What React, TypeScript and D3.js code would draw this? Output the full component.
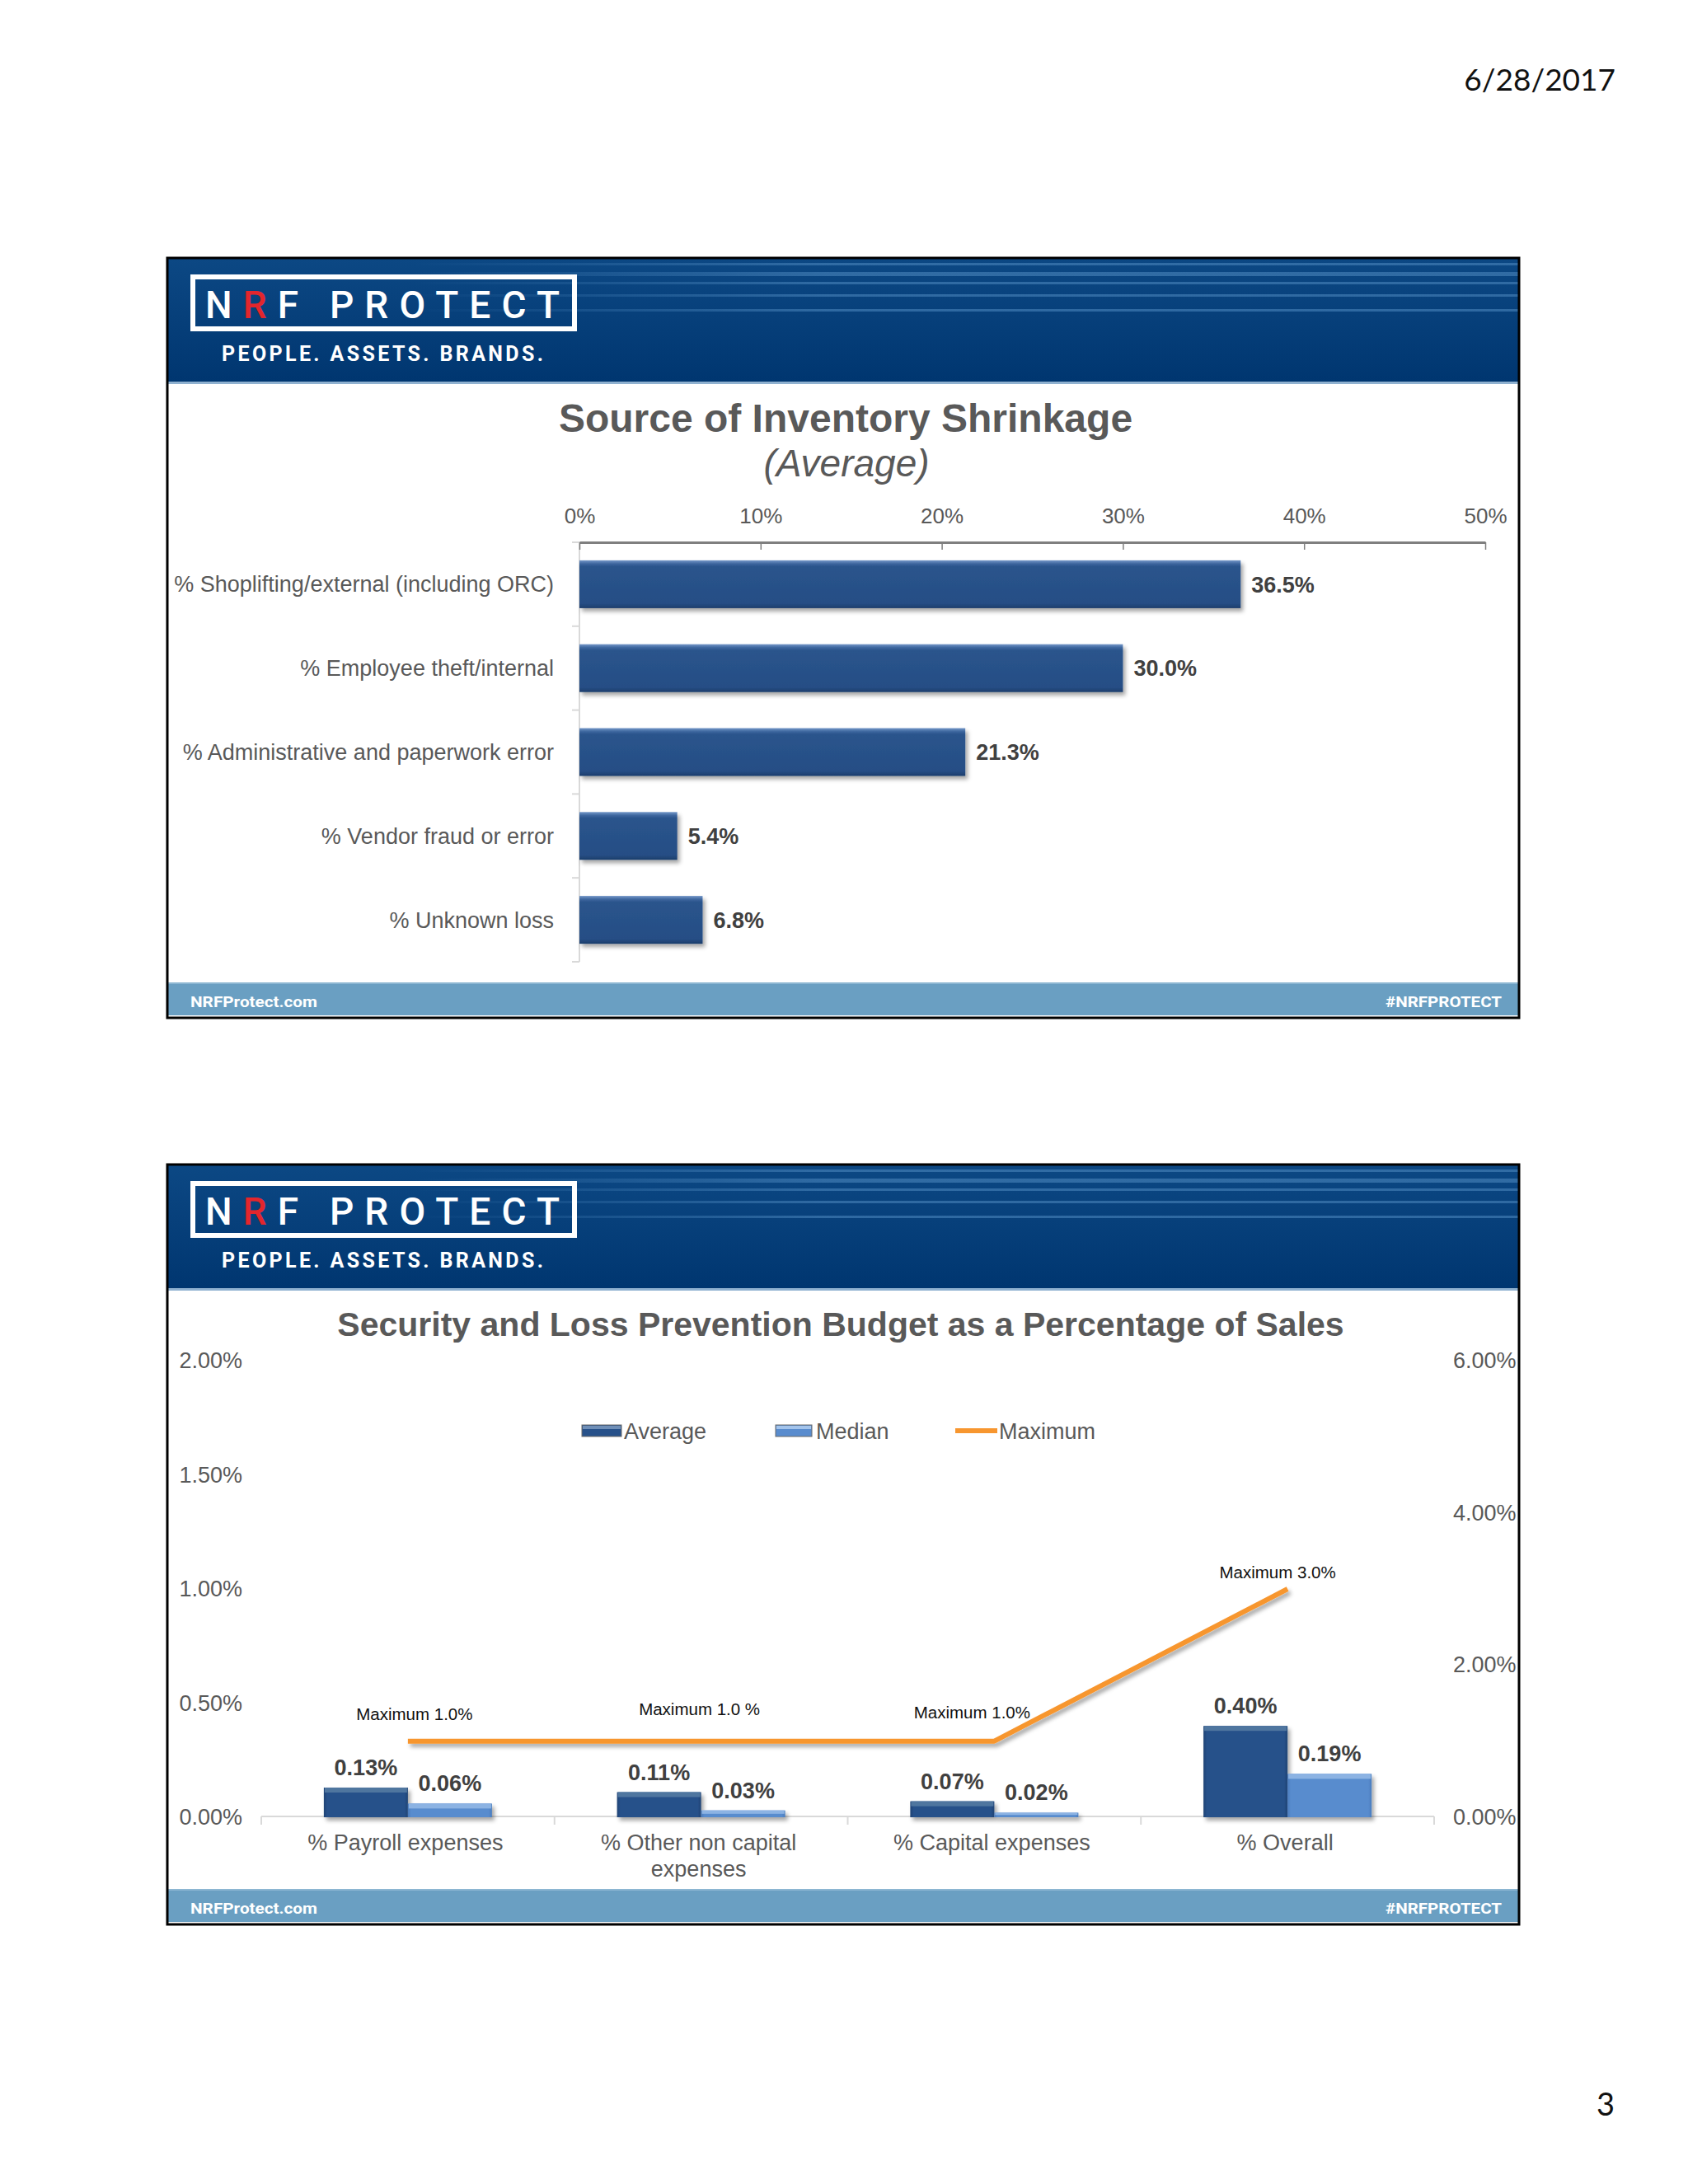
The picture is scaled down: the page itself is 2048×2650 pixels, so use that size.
import { useEffect, useRef } from "react";
import * as d3 from "d3";

// Source of inventory shrinkage (average share, %)
const shrinkCategories = [
  "% Shoplifting/external (including ORC)",
  "% Employee theft/internal",
  "% Administrative and paperwork error",
  "% Vendor fraud or error",
  "% Unknown loss",
];
const shrinkValues = [36.5, 30.0, 21.3, 5.4, 6.8];
const shrinkTicks = [0, 10, 20, 30, 40, 50];

// Security / LP budget as % of sales
const budgetCategories = [
  "% Payroll expenses",
  "% Other non capital expenses",
  "% Capital expenses",
  "% Overall",
];
const budgetCategoryLines = [
  ["% Payroll expenses"],
  ["% Other non capital", "expenses"],
  ["% Capital expenses"],
  ["% Overall"],
];
const budgetSeries = ["Average", "Median"];
const budgetAverage = [0.13, 0.11, 0.07, 0.4];
const budgetMedian = [0.06, 0.03, 0.02, 0.19];
const budgetMaximum = [1.0, 1.0, 1.0, 3.0];
const maximumLabels = ["Maximum 1.0%", "Maximum 1.0 %", "Maximum 1.0%", "Maximum 3.0%"];
const leftTicks = [0, 0.5, 1, 1.5, 2];
const rightTicks = [0, 2, 4, 6];

const FONT = "'Liberation Sans', Arial, Helvetica, sans-serif";
const GRAY = "#595959";
const DARK = "#404040";

const slideLeft = 203;
const slideRight = 1843;
const slideHeight = 922;

export default function App() {
  const svgRef = useRef<SVGSVGElement>(null);

  useEffect(() => {
    if (!svgRef.current) return;
    const svg = d3.select(svgRef.current);
    svg.selectAll("*").remove();

    const defs = svg.append("defs");

    const header = defs.append("linearGradient").attr("id", "headerFill").attr("x1", 0).attr("y1", 0).attr("x2", 0).attr("y2", 1);
    header.append("stop").attr("offset", "0%").attr("stop-color", "#0c4884");
    header.append("stop").attr("offset", "45%").attr("stop-color", "#07407b");
    header.append("stop").attr("offset", "100%").attr("stop-color", "#003670");

    const stripe = defs.append("linearGradient").attr("id", "stripeFill")
      .attr("gradientUnits", "userSpaceOnUse").attr("x1", 500).attr("y1", 0).attr("x2", 1000).attr("y2", 0);
    stripe.append("stop").attr("offset", "0%").attr("stop-color", "#4f8ac0").attr("stop-opacity", 0);
    stripe.append("stop").attr("offset", "100%").attr("stop-color", "#4f8ac0").attr("stop-opacity", 0.55);

    const barH = defs.append("linearGradient").attr("id", "barBlueH").attr("x1", 0).attr("y1", 0).attr("x2", 0).attr("y2", 1);
    barH.append("stop").attr("offset", "0%").attr("stop-color", "#7497c8");
    barH.append("stop").attr("offset", "7%").attr("stop-color", "#3e679f");
    barH.append("stop").attr("offset", "13%").attr("stop-color", "#2a548c");
    barH.append("stop").attr("offset", "90%").attr("stop-color", "#264e85");
    barH.append("stop").attr("offset", "100%").attr("stop-color", "#1c3d6b");

    const avgFill = defs.append("linearGradient").attr("id", "avgFill").attr("x1", 0).attr("y1", 0).attr("x2", 1).attr("y2", 0);
    avgFill.append("stop").attr("offset", "0%").attr("stop-color", "#1f4374");
    avgFill.append("stop").attr("offset", "4%").attr("stop-color", "#27518a");
    avgFill.append("stop").attr("offset", "96%").attr("stop-color", "#27518a");
    avgFill.append("stop").attr("offset", "100%").attr("stop-color", "#1f4374");

    const medFill = defs.append("linearGradient").attr("id", "medFill").attr("x1", 0).attr("y1", 0).attr("x2", 1).attr("y2", 0);
    medFill.append("stop").attr("offset", "0%").attr("stop-color", "#4a7cbd");
    medFill.append("stop").attr("offset", "4%").attr("stop-color", "#598cce");
    medFill.append("stop").attr("offset", "96%").attr("stop-color", "#598cce");
    medFill.append("stop").attr("offset", "100%").attr("stop-color", "#4a7cbd");

    defs.append("filter").attr("id", "barShadow")
      .attr("filterUnits", "userSpaceOnUse").attr("x", 0).attr("y", 0).attr("width", 2048).attr("height", 2650)
      .append("feDropShadow").attr("dx", 3).attr("dy", 4).attr("stdDeviation", 2.5)
      .attr("flood-color", "#000").attr("flood-opacity", 0.35);

    // page chrome
    svg.append("rect").attr("width", 2048).attr("height", 2650).attr("fill", "#fff");
    svg.append("text").attr("x", 1960).attr("y", 110).attr("text-anchor", "end")
      .attr("font-family", "Lato, 'Open Sans', sans-serif").attr("font-size", 37).attr("fill", "#111").text("6/28/2017");
    svg.append("text").attr("x", 1959).attr("y", 2567).attr("text-anchor", "end")
      .attr("font-family", "Lato, 'Open Sans', sans-serif").attr("font-size", 38).attr("fill", "#111").text("3");

    const drawFrame = (top: number) => {
      const g = svg.append("g");
      const w = slideRight - slideLeft;
      g.append("rect").attr("x", slideLeft).attr("y", top).attr("width", w).attr("height", slideHeight).attr("fill", "#fff");
      g.append("rect").attr("x", slideLeft).attr("y", top).attr("width", w).attr("height", 150).attr("fill", "url(#headerFill)");
      [[6, 3], [17, 5], [29, 3], [44, 3], [62, 3]].forEach(([dy, h]) => {
        g.append("rect").attr("x", slideLeft).attr("y", top + dy).attr("width", w).attr("height", h).attr("fill", "url(#stripeFill)");
      });
      g.append("rect").attr("x", slideLeft).attr("y", top + 150).attr("width", w).attr("height", 3).attr("fill", "#8fb1d0");

      // logo
      g.append("rect").attr("x", 234).attr("y", top + 23).attr("width", 463).attr("height", 63)
        .attr("fill", "none").attr("stroke", "#fff").attr("stroke-width", 6);
      const logo = g.append("text").attr("x", 249).attr("y", top + 73)
        .attr("font-family", "Roboto, 'DejaVu Sans', sans-serif").attr("font-weight", 500).attr("font-size", 46)
        .attr("fill", "#fff").attr("textLength", 430).attr("lengthAdjust", "spacing");
      logo.append("tspan").text("N");
      logo.append("tspan").attr("fill", "#e3262d").text("R");
      logo.append("tspan").text("F PROTECT");
      g.append("text").attr("x", 269).attr("y", top + 125)
        .attr("font-family", "Roboto, 'DejaVu Sans', sans-serif").attr("font-weight", 700).attr("font-size", 25)
        .attr("fill", "#fff").attr("textLength", 390).attr("lengthAdjust", "spacing").text("PEOPLE. ASSETS. BRANDS.");

      // footer band
      g.append("rect").attr("x", slideLeft).attr("y", top + 879).attr("width", w).attr("height", 40).attr("fill", "#6a9fc2");
      g.append("rect").attr("x", slideLeft).attr("y", top + 879).attr("width", w).attr("height", 2).attr("fill", "#8cb6d2");
      g.append("text").attr("x", 231).attr("y", top + 909)
        .attr("font-family", "Roboto, 'DejaVu Sans', sans-serif").attr("font-weight", 700).attr("font-size", 18)
        .attr("fill", "#fff").attr("textLength", 154).attr("lengthAdjust", "spacingAndGlyphs").text("NRFProtect.com");
      g.append("text").attr("x", 1681).attr("y", top + 909)
        .attr("font-family", "Roboto, 'DejaVu Sans', sans-serif").attr("font-weight", 700).attr("font-size", 18)
        .attr("fill", "#fff").attr("textLength", 141).attr("lengthAdjust", "spacingAndGlyphs").text("#NRFPROTECT");
    };

    const drawBorder = (top: number) => {
      svg.append("rect").attr("x", slideLeft).attr("y", top).attr("width", slideRight - slideLeft).attr("height", slideHeight)
        .attr("fill", "none").attr("stroke", "#000").attr("stroke-width", 3);
    };

    // ---------- Slide 1: Source of Inventory Shrinkage ----------
    drawFrame(313);
    svg.append("text").attr("x", 1026).attr("y", 524).attr("text-anchor", "middle")
      .attr("font-family", FONT).attr("font-size", 48).attr("font-weight", "bold").attr("fill", GRAY)
      .text("Source of Inventory Shrinkage");
    svg.append("text").attr("x", 1027).attr("y", 578).attr("text-anchor", "middle")
      .attr("font-family", FONT).attr("font-size", 46).attr("font-style", "italic").attr("fill", GRAY)
      .text("(Average)");

    const x = d3.scaleLinear([0, 50], [703, 1802]);
    const y = d3.scaleBand(shrinkCategories, [658, 1167]).paddingInner(0.43).paddingOuter(0.215);

    // category axis with separators
    const yAxis = svg.append("g");
    yAxis.append("line").attr("x1", 703).attr("x2", 703).attr("y1", 658).attr("y2", 1167)
      .attr("stroke", "#d9d9d9").attr("stroke-width", 2);
    d3.range(shrinkCategories.length + 1).forEach(i => {
      const yy = y.range()[0] + i * y.step();
      yAxis.append("line").attr("x1", 694).attr("x2", 703).attr("y1", yy).attr("y2", yy)
        .attr("stroke", "#d9d9d9").attr("stroke-width", 2);
    });

    // value axis on top
    const xAxis = svg.append("g").attr("transform", "translate(0,658)")
      .call(d3.axisTop(x).tickValues(shrinkTicks).tickFormat(d => `${d}%`)
        .tickSizeInner(-9).tickSizeOuter(0).tickPadding(23));
    xAxis.attr("font-family", FONT).attr("font-size", 26);
    xAxis.select(".domain").attr("stroke", "#7f7f7f").attr("stroke-width", 3);
    xAxis.selectAll(".tick line").attr("stroke", "#7f7f7f").attr("stroke-width", 1.5);
    xAxis.selectAll(".tick text").attr("fill", GRAY);

    svg.append("g").selectAll("text").data(shrinkCategories).join("text")
      .attr("x", 672).attr("y", d => y(d)! + y.bandwidth() / 2).attr("dy", "0.35em")
      .attr("text-anchor", "end").attr("font-family", FONT).attr("font-size", 27).attr("fill", GRAY)
      .text(d => d);

    svg.append("g").attr("filter", "url(#barShadow)")
      .selectAll("rect").data(shrinkValues).join("rect")
      .attr("x", x(0)).attr("y", (_, i) => y(shrinkCategories[i])!)
      .attr("width", d => x(d) - x(0)).attr("height", y.bandwidth())
      .attr("fill", "url(#barBlueH)");

    svg.append("g").selectAll("text").data(shrinkValues).join("text")
      .attr("x", d => x(d) + 13).attr("y", (_, i) => y(shrinkCategories[i])! + y.bandwidth() / 2).attr("dy", "0.36em")
      .attr("font-family", FONT).attr("font-size", 27).attr("font-weight", "bold").attr("fill", DARK)
      .text(d => `${d.toFixed(1)}%`);

    drawBorder(313);

    // ---------- Slide 2: Security and LP budget ----------
    drawFrame(1413);
    svg.append("text").attr("x", 1020).attr("y", 1621).attr("text-anchor", "middle")
      .attr("font-family", FONT).attr("font-size", 41).attr("font-weight", "bold").attr("fill", GRAY)
      .text("Security and Loss Prevention Budget as a Percentage of Sales");

    const x0 = d3.scaleBand(budgetCategories, [317, 1740]).paddingInner(0.4266).paddingOuter(0.2133);
    const x1 = d3.scaleBand(budgetSeries, [0, x0.bandwidth()]);
    const yL = d3.scaleLinear([0, 2], [2205, 1651]);
    const yR = d3.scaleLinear([0, 6], [2205, 1651]);

    const leftAxis = svg.append("g").attr("transform", "translate(317,0)")
      .call(d3.axisLeft(yL).tickValues(leftTicks).tickFormat(d => `${(+d).toFixed(2)}%`).tickSize(0).tickPadding(23));
    leftAxis.attr("font-family", FONT).attr("font-size", 27);
    leftAxis.select(".domain").remove();
    leftAxis.selectAll(".tick text").attr("fill", GRAY);

    const rightAxis = svg.append("g").attr("transform", "translate(1740,0)")
      .call(d3.axisRight(yR).tickValues(rightTicks).tickFormat(d => `${(+d).toFixed(2)}%`).tickSize(0).tickPadding(23));
    rightAxis.attr("font-family", FONT).attr("font-size", 27);
    rightAxis.select(".domain").remove();
    rightAxis.selectAll(".tick text").attr("fill", GRAY);

    // category baseline and separators
    const base = svg.append("g");
    base.append("line").attr("x1", 317).attr("x2", 1740).attr("y1", 2204).attr("y2", 2204)
      .attr("stroke", "#d9d9d9").attr("stroke-width", 2);
    d3.range(budgetCategories.length + 1).forEach(i => {
      const xx = x0.range()[0] + i * x0.step();
      base.append("line").attr("x1", xx).attr("x2", xx).attr("y1", 2204).attr("y2", 2214)
        .attr("stroke", "#d9d9d9").attr("stroke-width", 2);
    });

    budgetCategoryLines.forEach((lines, i) => {
      const t = base.append("text").attr("text-anchor", "middle")
        .attr("font-family", FONT).attr("font-size", 27).attr("fill", GRAY);
      lines.forEach((ln, j) => {
        t.append("tspan").attr("x", x0(budgetCategories[i])! + x0.bandwidth() / 2 - 3).attr("y", 2245 + j * 32).text(ln);
      });
    });

    // grouped bars
    const seriesData = [budgetAverage, budgetMedian];
    const fills = ["url(#avgFill)", "url(#medFill)"];
    const tops = ["#50769f", "#8cb3e3"];
    const barLayer = svg.append("g").attr("filter", "url(#barShadow)");
    seriesData.forEach((vals, s) => {
      vals.forEach((v, i) => {
        const bx = x0(budgetCategories[i])! + x1(budgetSeries[s])!;
        const by = yL(v);
        const h = yL(0) - by;
        barLayer.append("rect").attr("x", bx).attr("y", by).attr("width", x1.bandwidth()).attr("height", h).attr("fill", fills[s]);
        barLayer.append("rect").attr("x", bx + 1).attr("y", by).attr("width", x1.bandwidth() - 2)
          .attr("height", Math.min(6, h / 2)).attr("fill", tops[s]);
      });
    });

    const valueLabels = svg.append("g").attr("font-family", FONT).attr("font-size", 27)
      .attr("font-weight", "bold").attr("fill", DARK).attr("text-anchor", "middle");
    seriesData.forEach((vals, s) => {
      vals.forEach((v, i) => {
        valueLabels.append("text")
          .attr("x", x0(budgetCategories[i])! + x1(budgetSeries[s])! + x1.bandwidth() / 2)
          .attr("y", yL(v) - 15)
          .text(`${v.toFixed(2)}%`);
      });
    });

    // maximum line on the secondary axis
    const line = d3.line<number>()
      .x((_, i) => x0(budgetCategories[i])! + x0.bandwidth() / 2)
      .y(d => yR(d));
    svg.append("path").attr("d", line(budgetMaximum)).attr("fill", "none")
      .attr("stroke", "#f7962f").attr("stroke-width", 6).attr("stroke-linejoin", "round")
      .attr("filter", "url(#barShadow)");

    const maxLabelNudge = [[8, -26], [-2, -32], [-27, -28], [-12, -13]];
    svg.append("g").selectAll("text").data(budgetMaximum).join("text")
      .attr("x", (_, i) => x0(budgetCategories[i])! + x0.bandwidth() / 2 + maxLabelNudge[i][0])
      .attr("y", d => yR(d)).attr("dy", (_, i) => maxLabelNudge[i][1])
      .attr("text-anchor", "middle").attr("font-family", FONT).attr("font-size", 20.5).attr("fill", "#111")
      .text((_, i) => maximumLabels[i]);

    // legend
    const legend = svg.append("g").attr("font-family", FONT).attr("font-size", 27).attr("fill", GRAY);
    legend.append("rect").attr("x", 706).attr("y", 1729).attr("width", 48).attr("height", 14).attr("fill", "#27518a").attr("stroke", "#6a6a6a").attr("stroke-width", 1);
    legend.append("rect").attr("x", 707).attr("y", 1730).attr("width", 46).attr("height", 4).attr("fill", "#6f8fb8");
    legend.append("text").attr("x", 757).attr("y", 1746).text("Average");
    legend.append("rect").attr("x", 941).attr("y", 1729).attr("width", 44).attr("height", 14).attr("fill", "#598cce").attr("stroke", "#6a6a6a").attr("stroke-width", 1);
    legend.append("rect").attr("x", 942).attr("y", 1730).attr("width", 42).attr("height", 4).attr("fill", "#a3c4ec");
    legend.append("text").attr("x", 990).attr("y", 1746).text("Median");
    legend.append("line").attr("x1", 1159).attr("x2", 1210).attr("y1", 1736).attr("y2", 1736)
      .attr("stroke", "#f7962f").attr("stroke-width", 6);
    legend.append("text").attr("x", 1212).attr("y", 1746).text("Maximum");

    drawBorder(1413);

    return () => {
      svg.selectAll("*").remove();
    };
  }, []);

  return (
    <svg
      ref={svgRef}
      width={2048}
      height={2650}
      viewBox="0 0 2048 2650"
      style={{ position: "absolute", left: 0, top: 0, display: "block" }}
    />
  );
}
